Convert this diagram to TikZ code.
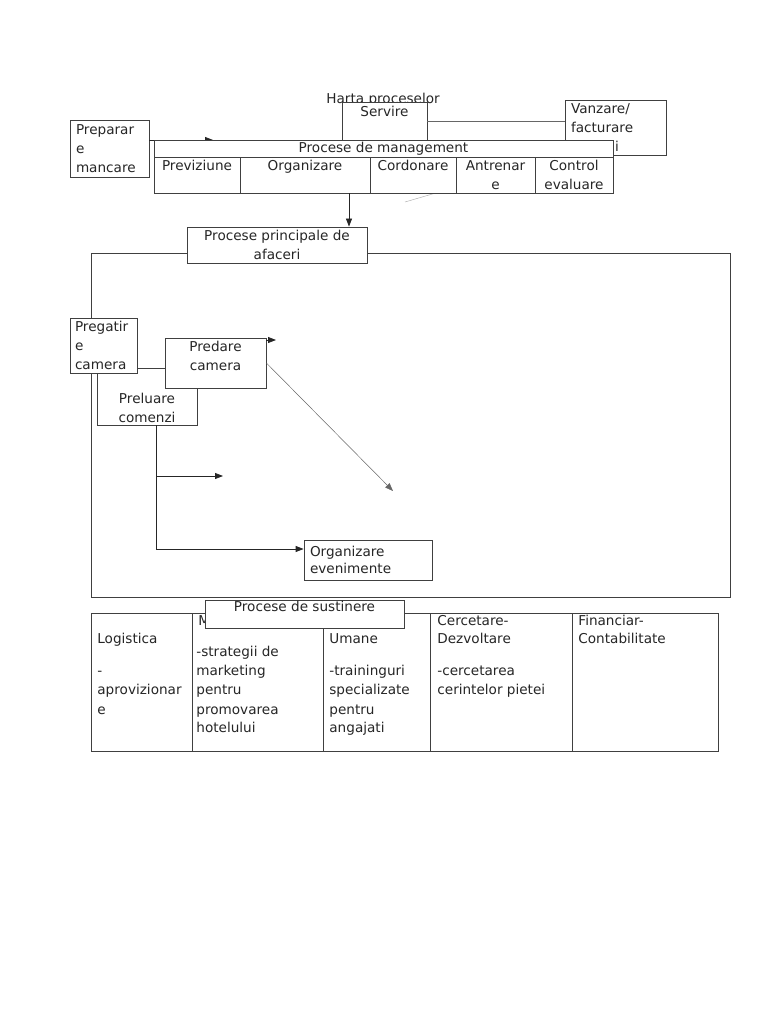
\documentclass[tikz,border=0pt]{standalone}
\usepackage{fontspec}
\setmainfont{DejaVu Sans}
\usetikzlibrary{arrows.meta}
\tikzset{
    box/.style={draw=black!75,fill=white,inner sep=0pt,align=center,
        font=\fontsize{13.6}{19}\selectfont},
    lbox/.style={box,align=left,text width=#1},
    cell/.style={draw=black!75,fill=white,inner sep=0pt,align=center,
        font=\fontsize{13.6}{19}\selectfont},
    txt/.style={inner sep=0pt,anchor=west,text height=10pt,text depth=3pt,
        font=\fontsize{13.6}{19}\selectfont},
}
\begin{document}
\begin{tikzpicture}[x=1pt,y=-1pt,>={Triangle[length=8pt,width=6pt]},line width=.8pt,color=black!85]
    \useasboundingbox (0,0) rectangle (768,1024);
    \node[txt] (harta) at (326,100) {Harta proceselor};
    %sus
    \node[box,minimum width=85,minimum height=38] (serv) at (384.5,121) {Servire\\[-6pt]\strut};
    \node[lbox=89,minimum width=101,minimum height=55] (vanz) at (615.5,127.5) {Vanzare/\\facturare\\servicii};
    \draw[black!60,line width=.5pt] (serv.east) -- (serv.east -| vanz.west);
    \coordinate (cf) at (405,202);
    \draw[black!30,line width=.5pt] (cf) -- (vanz.south west);
    \node[lbox=67,minimum width=79,minimum height=57] (prep) at (109.5,148.5) {Preparar\\e\\mancare};
    \coordinate (pm) at (213,140);
    \draw[->] (prep.east |- pm) -- (pm);
    %procese de management
    \node[cell,minimum width=459,minimum height=17] (mh) at (383.5,148.5) {Procese de management};
    \foreach \a/\b/\t [count=\i] in {154/240/Previziune\\[-6pt]\strut,240/370/Organizare\\[-6pt]\strut,
        370/456/Cordonare\\[-6pt]\strut,456/535/Antrenar\\e,535/613/Control\\evaluare}
        \node[cell,minimum width=\b-\a,minimum height=36] (m\i) at ({(\a+\b)/2},175) {\t};
    %procese principale
    \draw[black!75] (91,253) rectangle (730,597);
    \node[box,minimum width=180,minimum height=36] (princ) at (277,245) {Procese principale de\\afaceri};
    \draw[->] ([xshift=44pt]m2.south) -- ([xshift=72pt]princ.north);
    \node[box,minimum width=100,minimum height=57] (prelu) at (147,396.5) {\strut\\Preluare\\comenzi};
    \node[lbox=57,minimum width=67,minimum height=55] (preg) at (103.5,345.5) {Pregatir\\e\\camera};
    \node[box,minimum width=101,minimum height=50] (pred) at (215.5,363) {Predare\\camera\\[-10pt]\strut};
    \coordinate (pa) at (276,340);
    \coordinate (pd) at (393,491);
    \coordinate (pb) at (223,476);
    \draw[->] (pred.north east |- pa) -- (pa);
    \draw[->,black!60,line width=.5pt] (pred.east) -- (pd);
    \node[lbox=116,minimum width=128,minimum height=40,font=\fontsize{13.6}{17}\selectfont] (orgev) at (368,560) {Organizare\\evenimente};
    \draw[->] ([xshift=9pt]prelu.south) |- ([yshift=11pt]orgev.west);
    \draw[->] ([xshift=9pt]prelu.south |- pb) -- (pb);
    %procese de sustinere
    \foreach \a/\b [count=\i] in {91/192,192/323,323/430,430/572,572/718}
        \node[cell,minimum width=\b-\a,minimum height=138] (s\i) at ({(\a+\b)/2},682) {};
    \foreach \x/\y/\t [count=\i] in {97/640/Logistica,97/672/-,97/691/aprovizionar,97/711/e,
        198/622/Marketing,196/653/-strategii de,196/672/marketing,196/691/pentru,196/711/promovarea,196/729/hotelului,
        329/640/Umane,329/672/-traininguri,329/691/specializate,329/711/pentru,329/729/angajati,
        437/622/Cercetare-,437/640/Dezvoltare,437/672/-cercetarea,437/691/cerintelor pietei,
        578/622/Financiar-,578/640/Contabilitate}
        \node[txt] (t\i) at (\x,\y) {\t};
    \node[box,minimum width=199,minimum height=28,text height=10pt,text depth=15pt] (sust) at (304.5,614) {Procese de sustinere};
\end{tikzpicture}
\end{document}
